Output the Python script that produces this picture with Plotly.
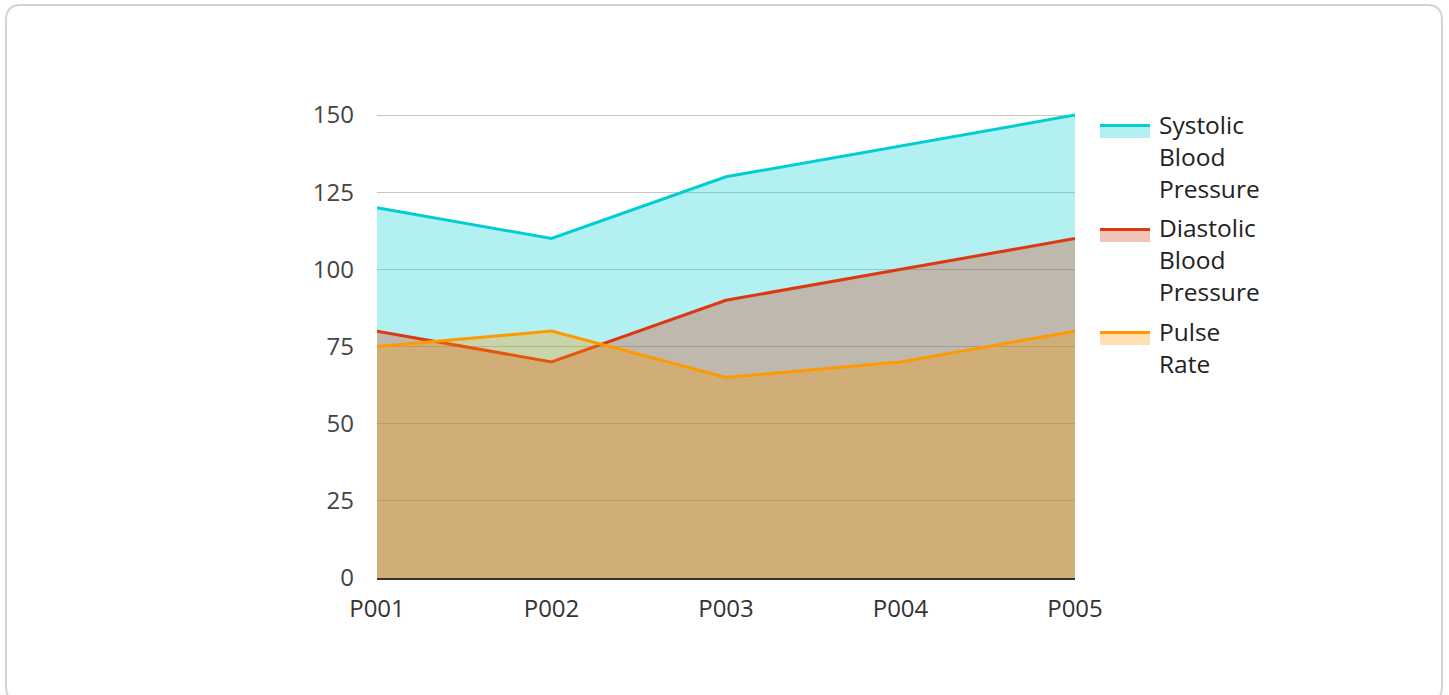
import plotly.graph_objects as go

patients = ["P001", "P002", "P003", "P004", "P005"]
systolic = [120, 110, 130, 140, 150]
diastolic = [80, 70, 90, 100, 110]
pulse = [75, 80, 65, 70, 80]

series_names = ["Systolic Blood Pressure", "Diastolic Blood Pressure", "Pulse Rate"]
legend_labels = ["Systolic<br>Blood<br>Pressure", "Diastolic<br>Blood<br>Pressure", "Pulse<br>Rate"]
line_colors = ["#00CED1", "#DC3912", "#FF9900"]
fill_colors = ["rgba(0,206,209,0.3)", "rgba(220,57,18,0.3)", "rgba(255,153,0,0.3)"]
y_ticks = [0, 25, 50, 75, 100, 125, 150]

W, H = 1449, 695
L, R, T, B = 377, 1075, 112, 578

fig = go.Figure()
for name, ys, lc, fc in zip(series_names, [systolic, diastolic, pulse], line_colors, fill_colors):
    fig.add_trace(go.Scatter(
        x=patients, y=ys, name=name, mode="lines",
        line=dict(color=lc, width=3), fill="tozeroy", fillcolor=fc,
        showlegend=False,
    ))

def PX(x):
    return (x - L) / (R - L)

def PY(y):
    return (B - y) / (B - T)

def P(x, y):
    return f"{PX(x):.5f},{PY(y):.5f}"

# rounded border around the whole chart
x0, y0, x1, y1, r = 6, 5, 1442, 702, 15
path = (f"M {P(x0 + r, y0)} L {P(x1 - r, y0)} Q {P(x1, y0)} {P(x1, y0 + r)} "
        f"L {P(x1, y1 - r)} Q {P(x1, y1)} {P(x1 - r, y1)} "
        f"L {P(x0 + r, y1)} Q {P(x0, y1)} {P(x0, y1 - r)} "
        f"L {P(x0, y0 + r)} Q {P(x0, y0)} {P(x0 + r, y0)} Z")
fig.add_shape(type="path", path=path, xref="paper", yref="paper",
              line=dict(color="#d4d4d4", width=2), layer="below")

# legend (line on top of a fill band, text to the right, aligned to first line)
legend_line_y = [125.5, 229.5, 332.5]
legend_text_mid = [157, 259, 347]
for lab, lc, fc, ly, tm in zip(legend_labels, line_colors, fill_colors, legend_line_y, legend_text_mid):
    fig.add_shape(type="rect", xref="paper", yref="paper",
                  x0=PX(1100), x1=PX(1150), y0=PY(ly + 1.5), y1=PY(ly + 12.5),
                  fillcolor=fc, line=dict(width=0))
    fig.add_shape(type="line", xref="paper", yref="paper",
                  x0=PX(1100), x1=PX(1150), y0=PY(ly), y1=PY(ly),
                  line=dict(color=lc, width=3))
    fig.add_annotation(text=lab, xref="paper", yref="paper", x=PX(1157), y=PY(tm),
                       xanchor="left", yanchor="middle", align="left", showarrow=False,
                       font=dict(size=24.5, color="#222222"))

fig.update_layout(
    width=W, height=H,
    margin=dict(l=L, r=W - R, t=T, b=H - B, pad=0),
    paper_bgcolor="white", plot_bgcolor="white",
    font=dict(family="Open Sans", size=24, color="#444444"),
    showlegend=False,
    xaxis=dict(type="category", range=[0, 4], showgrid=False, zeroline=False,
               showline=True, linecolor="#333333", linewidth=2,
               ticks="", ticklabelstandoff=8, tickfont=dict(size=24, color="#333333")),
    yaxis=dict(range=[0, 151], tickvals=y_ticks,
               showgrid=True, gridcolor="#c8c8c8", gridwidth=1,
               zeroline=False, showline=False, ticks="", ticklabelstandoff=22,
               tickfont=dict(size=24, color="#444444")),
)

fig.write_html("out.html", config={"displayModeBar": False},
               post_script="document.body.style.margin='0';")
